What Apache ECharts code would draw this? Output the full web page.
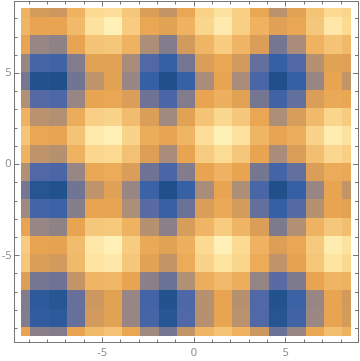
<!DOCTYPE html>
<html>
<head>
<meta charset="utf-8">
<style>html,body{margin:0;padding:0;background:#fff}#c{width:360px;height:361px}</style>
<script src="https://cdn.jsdelivr.net/npm/echarts@6/dist/echarts.min.js"></script>
</head>
<body>
<div id="c"></div>
<script>
const xCenters = [-9.42,-8.42,-7.42,-6.42,-5.42,-4.42,-3.42,-2.42,-1.42,-0.42,0.58,1.58,2.58,3.58,4.58,5.58,6.58,7.58,8.58];
const yCenters = [8.58,7.58,6.58,5.58,4.58,3.58,2.58,1.58,0.58,-0.42,-1.42,-2.42,-3.42,-4.42,-5.42,-6.42,-7.42,-8.42,-9.42];
const tickLabels = [-5,0,5];
const minorTicks = [-9,-8,-7,-6,-4,-3,-2,-1,1,2,3,4,6,7,8];
const row00 = [.68,.53,.50,.68,.88,.90,.78,.55,.48,.62,.83,.92,.82,.62,.46,.58,.76,.88,.85];
const row01 = [.70,.60,.60,.72,.92,1.0,.80,.62,.58,.68,.85,.97,.82,.68,.57,.62,.78,.95,.88];
const row02 = [.60,.38,.36,.60,.76,.78,.68,.43,.33,.52,.70,.80,.70,.55,.30,.42,.68,.76,.72];
const row03 = [.38,.16,.14,.33,.58,.58,.42,.20,.10,.30,.55,.62,.52,.25,.10,.20,.45,.58,.57];
const row04 = [.30,.02,.00,.29,.47,.58,.38,.10,.00,.11,.42,.60,.42,.17,.00,.10,.38,.60,.48];
const row05 = [.44,.21,.19,.38,.60,.62,.55,.28,.18,.33,.60,.67,.58,.30,.14,.25,.55,.63,.62];
const row06 = [.68,.46,.44,.65,.82,.84,.73,.55,.40,.58,.76,.87,.78,.62,.43,.54,.72,.85,.80];
const row07 = [.77,.62,.60,.76,.96,1.0,.84,.65,.60,.70,.90,1.0,.92,.70,.60,.66,.84,.98,.92];
const row08 = [.68,.47,.45,.68,.86,.88,.75,.56,.42,.60,.80,.89,.78,.60,.42,.55,.74,.86,.82];
const row09 = [.44,.20,.18,.38,.62,.64,.55,.28,.18,.33,.60,.68,.60,.30,.15,.25,.55,.64,.63];
const row10 = [.30,.03,.01,.29,.47,.57,.38,.12,.00,.11,.42,.60,.43,.17,.00,.10,.38,.60,.48];
const row11 = [.40,.15,.13,.34,.60,.60,.43,.22,.11,.27,.55,.63,.53,.25,.10,.21,.45,.60,.58];
const row12 = [.60,.38,.36,.60,.78,.79,.68,.45,.35,.54,.70,.80,.70,.55,.32,.44,.68,.78,.74];
const row13 = [.80,.60,.59,.73,.95,1.0,.80,.63,.58,.67,.88,1.0,.88,.68,.56,.62,.79,.98,.92];
const row14 = [.78,.55,.52,.72,.93,.95,.78,.58,.48,.64,.84,.93,.85,.64,.47,.59,.77,.93,.87];
const row15 = [.56,.30,.28,.48,.70,.71,.60,.35,.27,.44,.66,.72,.66,.37,.22,.32,.60,.70,.68];
const row16 = [.33,.06,.04,.26,.50,.58,.38,.15,.02,.19,.45,.60,.45,.20,.02,.12,.38,.60,.52];
const row17 = [.33,.08,.06,.26,.52,.58,.38,.16,.04,.20,.45,.60,.46,.20,.03,.14,.39,.60,.53];
const row18 = [.60,.35,.33,.60,.72,.76,.62,.40,.30,.48,.70,.76,.68,.50,.27,.38,.62,.74,.68];
const valueRows = [row00,row01,row02,row03,row04,row05,row06,row07,row08,row09,row10,row11,row12,row13,row14,row15,row16,row17,row18];
const ramp = ['#1f5089','#3560a5','#5168a6','#757692','#a08a80','#cc9860','#e8a450','#efb565','#f7cc80','#fddd97','#fff0b8'];

const cells = [];
valueRows.forEach((row, j) => row.forEach((v, i) => cells.push([xCenters[i], yCenters[j], v])));

const frame = '#777';
const axisMin = -9.78, axisMax = 8.94;
const xLo = xCenters[0], xHi = xCenters[18], yLo = yCenters[18], yHi = yCenters[0];

function axis(position, ticks, len, labelMargin) {
  return {
    type: 'value', position, min: axisMin, max: axisMax,
    splitLine: {show: false},
    axisLine: {show: true, onZero: false, lineStyle: {color: frame, width: 1}},
    axisTick: {show: true, inside: true, length: len, customValues: ticks, lineStyle: {color: frame, width: 1}},
    axisLabel: labelMargin
      ? {show: true, customValues: tickLabels, formatter: v => String(v), color: '#888', fontSize: 11, fontFamily: 'Open Sans', margin: labelMargin, hideOverlap: false}
      : {show: false}
  };
}

const chart = echarts.init(document.getElementById('c'), null, {renderer: 'canvas'});
chart.setOption({
  animation: false,
  backgroundColor: '#fff',
  grid: {left: 14.5, top: 1.5, width: 343.5, height: 341, containLabel: false, outerBoundsMode: 'none'},
  xAxis: [axis('bottom', minorTicks, 3, 0), axis('bottom', tickLabels, 5, 5), axis('top', minorTicks, 3, 0), axis('top', tickLabels, 5, 0)],
  yAxis: [axis('left', minorTicks, 3, 0), axis('left', tickLabels, 5, 3), axis('right', minorTicks, 3, 0), axis('right', tickLabels, 5, 0)],
  visualMap: {show: false, type: 'continuous', min: 0, max: 1, dimension: 2, seriesIndex: 0, inRange: {color: ramp}},
  series: [{
    type: 'custom',
    coordinateSystem: 'cartesian2d',
    xAxisIndex: 0, yAxisIndex: 0,
    data: cells,
    encode: {x: 0, y: 1},
    silent: true,
    renderItem(params, api) {
      const x = api.value(0), y = api.value(1);
      const a = api.coord([Math.max(x - 0.5, xLo), Math.min(y + 0.5, yHi)]);
      const b = api.coord([Math.min(x + 0.5, xHi), Math.max(y - 0.5, yLo)]);
      const l = Math.round(a[0]), t = Math.round(a[1]), r = Math.round(b[0]), w = r - l, h = Math.round(b[1]) - t;
      return {type: 'rect', shape: {x: l, y: t, width: w, height: h}, style: {fill: api.visual('color')}};
    }
  }]
});
</script>
</body>
</html>
